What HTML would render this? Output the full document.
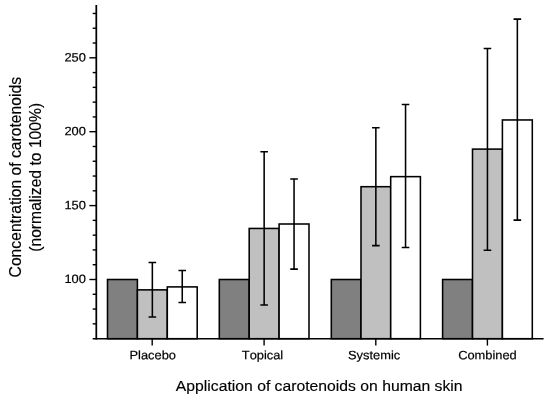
<!DOCTYPE html>
<html><head><meta charset="utf-8"><title>Carotenoids chart</title>
<style>
html,body{margin:0;padding:0;background:#fff;}
body{width:550px;height:398px;overflow:hidden;font-family:"Liberation Sans",sans-serif;}
svg{display:block;}
text{font-family:"Liberation Sans",sans-serif;fill:#000;}
</style></head><body>
<svg width="550" height="398" viewBox="0 0 550 398">
<rect width="550" height="398" fill="#fff"/>

<g stroke="#000" stroke-width="1.55">
<rect x="107.50" y="279.50" width="29.90" height="59.20" fill="#808080"/>
<rect x="137.40" y="289.86" width="29.90" height="48.84" fill="#c0c0c0"/>
<rect x="167.30" y="286.90" width="29.90" height="51.80" fill="#ffffff"/>
<rect x="219.30" y="279.50" width="29.90" height="59.20" fill="#808080"/>
<rect x="249.20" y="228.44" width="29.90" height="110.26" fill="#c0c0c0"/>
<rect x="279.10" y="224.00" width="29.90" height="114.70" fill="#ffffff"/>
<rect x="331.30" y="279.50" width="29.70" height="59.20" fill="#808080"/>
<rect x="361.00" y="186.70" width="29.70" height="152.00" fill="#c0c0c0"/>
<rect x="390.70" y="176.64" width="29.70" height="162.06" fill="#ffffff"/>
<rect x="442.60" y="279.50" width="29.90" height="59.20" fill="#808080"/>
<rect x="472.50" y="149.11" width="29.90" height="189.59" fill="#c0c0c0"/>
<rect x="502.40" y="119.96" width="29.90" height="218.74" fill="#ffffff"/>
</g>
<g stroke="#000" stroke-width="1.55" fill="none">
<path d="M152.35 262.40V316.90M148.55 262.40H156.15M148.55 316.90H156.15"/>
<path d="M182.25 270.40V302.40M178.45 270.40H186.05M178.45 302.40H186.05"/>
<path d="M264.15 151.80V304.90M260.35 151.80H267.95M260.35 304.90H267.95"/>
<path d="M294.05 178.90V269.10M290.25 178.90H297.85M290.25 269.10H297.85"/>
<path d="M375.85 127.80V245.60M372.05 127.80H379.65M372.05 245.60H379.65"/>
<path d="M405.55 104.50V247.50M401.75 104.50H409.35M401.75 247.50H409.35"/>
<path d="M487.45 48.50V250.20M483.65 48.50H491.25M483.65 250.20H491.25"/>
<path d="M517.35 19.10V220.10M513.55 19.10H521.15M513.55 220.10H521.15"/>
</g>
<g stroke="#000" stroke-width="1.75" fill="none">
<path d="M96.3 5.0V339.5"/>
<path d="M92.7 338.7H543.6" stroke-width="1.55"/>
</g>
<g stroke="#000" stroke-width="1.4" fill="none">
<path d="M92.7 323.84H96.3"/>
<path d="M92.7 309.06H96.3"/>
<path d="M92.7 294.28H96.3"/>
<path d="M89.4 279.50H96.3"/>
<path d="M92.7 264.72H96.3"/>
<path d="M92.7 249.94H96.3"/>
<path d="M92.7 235.16H96.3"/>
<path d="M92.7 220.38H96.3"/>
<path d="M89.4 205.60H96.3"/>
<path d="M92.7 190.82H96.3"/>
<path d="M92.7 176.04H96.3"/>
<path d="M92.7 161.26H96.3"/>
<path d="M92.7 146.48H96.3"/>
<path d="M89.4 131.70H96.3"/>
<path d="M92.7 116.92H96.3"/>
<path d="M92.7 102.14H96.3"/>
<path d="M92.7 87.36H96.3"/>
<path d="M92.7 72.58H96.3"/>
<path d="M89.4 57.80H96.3"/>
<path d="M92.7 43.02H96.3"/>
<path d="M92.7 28.24H96.3"/>
<path d="M92.7 13.46H96.3"/>
<path d="M152.2 338.7V345.6"/>
<path d="M264.1 338.7V345.6"/>
<path d="M375.8 338.7V345.6"/>
<path d="M487.4 338.7V345.6"/>
</g>
<g font-size="12.5" stroke="#000" stroke-width="0.2">
<text transform="translate(85.9 283.10) rotate(0.03) scale(1.03 0.975)" text-anchor="end">100</text>
<text transform="translate(85.9 209.20) rotate(0.03) scale(1.03 0.975)" text-anchor="end">150</text>
<text transform="translate(85.9 135.30) rotate(0.03) scale(1.03 0.975)" text-anchor="end">200</text>
<text transform="translate(85.9 61.40) rotate(0.03) scale(1.03 0.975)" text-anchor="end">250</text>
<text transform="translate(152.75 359.3) rotate(0.03) scale(1.03 0.975)" text-anchor="middle" style="font-kerning:none">Placebo</text>
<text transform="translate(262.5 359.3) rotate(0.03) scale(1.03 0.975)" text-anchor="middle" style="font-kerning:none">Topical</text>
<text transform="translate(374.1 359.3) rotate(0.03) scale(1.03 0.975)" text-anchor="middle" style="font-kerning:none">Systemic</text>
<text transform="translate(487.45 359.3) rotate(0.03) scale(1.03 0.975)" text-anchor="middle" style="font-kerning:none">Combined</text>
</g>
<g stroke="#000" stroke-width="0.15">
<text transform="translate(319.2 391.2) rotate(0.02) scale(1.063 1)" font-size="14.8" text-anchor="middle" style="font-kerning:none">Application of carotenoids on human skin</text>
<text transform="translate(20.8 177.2) scale(1.0465 1) rotate(-90)" font-size="15.7" text-anchor="middle" style="font-kerning:none">Concentration of carotenoids</text>
<text transform="translate(41.2 177.3) scale(1.0465 1) rotate(-90)" font-size="15.7" text-anchor="middle" style="font-kerning:none">(normalized to 100%)</text>
</g>
</svg>
</body></html>
